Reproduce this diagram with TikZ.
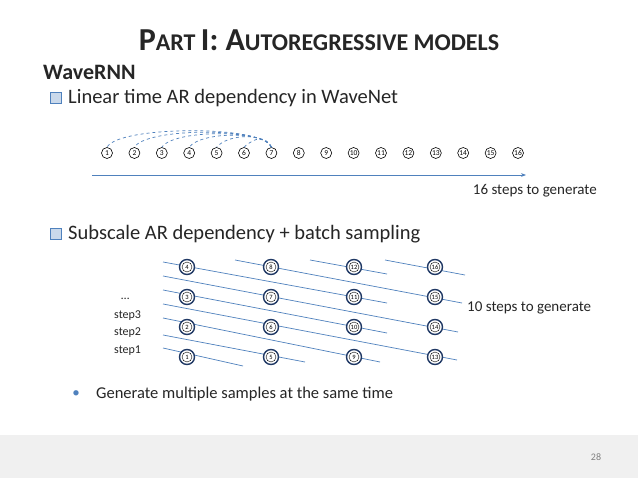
\documentclass[tikz,border=0pt]{standalone}
\usepackage{fontspec}
\setmainfont{Carlito}
\usetikzlibrary{arrows.meta,calc}
\definecolor{ablue}{HTML}{4F81BD}
\definecolor{navy}{HTML}{1F3864}
\definecolor{txt}{HTML}{262626}
\tikzset{
  small/.style={circle,draw=black,line width=0.6pt,minimum size=11pt,inner sep=0pt,font=\fontsize{7.5}{7}\selectfont},
  cell/.style={circle,draw=navy,line width=1.4pt,minimum size=15pt,inner sep=0pt,font=\fontsize{6.5}{6}\selectfont},
  inner/.style={circle,draw=black,line width=0.4pt,minimum size=10pt,inner sep=0pt},
  dep/.style={ablue,dashed,line width=0.7pt},
  sub/.style={ablue,line width=0.7pt},
  lbl/.style={font=\fontsize{12}{12}\selectfont,text=txt,anchor=west,inner sep=0pt},
  sq/.style={draw=ablue,fill=ablue!30,line width=0.8pt,minimum size=11pt,inner sep=0pt},
}
\begin{document}
\begin{tikzpicture}[x=1pt,y=-1pt]
\useasboundingbox (0,0) rectangle (638,478);
\fill[white] (0,0) rectangle (638,478);
\fill[gray!12] (0,435) rectangle (638,478);
\node[text=gray,font=\fontsize{10}{10}\selectfont] (pg) at (596,457) {28};
\node[font=\fontsize{32}{32}\selectfont\bfseries,text=txt] (title) at (319,40) {P\fontsize{24}{24}\selectfont ART \fontsize{32}{32}\selectfont I: A\fontsize{24}{24}\selectfont UTOREGRESSIVE MODELS};
\node[font=\fontsize{22}{22}\selectfont\bfseries,text=txt,anchor=west,inner sep=0pt] (wr) at (43,72) {WaveRNN};
\node[sq] (b1) at (56,98) {};
\node[font=\fontsize{20.5}{20}\selectfont,text=txt,anchor=west,inner sep=0pt] (t1) at (68,98) {Linear time AR dependency in WaveNet};
\node[sq] (b2) at (56,234) {};
\node[font=\fontsize{20.5}{20}\selectfont,text=txt,anchor=west,inner sep=0pt] (t2) at (68,234) {Subscale AR dependency + batch sampling};
% top row
\foreach \i in {1,...,16} {
  \node[small] (n\i) at ({107+(\i-1)*27.4},153) {\i};
}
\foreach \i/\h in {1/22,2/20,3/18,4/16,5/14,6/11} {
  \draw[dep] (n7.north) .. controls ($(n7.north)+(-6,-\h)$) and ($(n\i.north)+(12,-\h)$) .. (n\i.north);
}
\coordinate (a0) at (92,175);
\coordinate (a1) at (526,175);
\draw[ablue,line width=0.8pt,-{Stealth[length=5pt]}] (a0) -- (a1);
\node[font=\fontsize{15}{15}\selectfont,text=txt,anchor=east,inner sep=0pt] (s16) at (597,191) {16 steps to generate};
% subscale lines
\foreach \a/\b/\c/\d in {163/262/387/303, 163/276/458/332, 163/290/387/333, 163/304/457/360, 163/318/380/362, 163/335/305/362, 163/348/243/366, 235/260/462/303, 310/260/387/274, 385/260/465/275} {
  \coordinate (p) at (\a,\b); \coordinate (q) at (\c,\d);
  \draw[sub] (p) -- (q);
}
\foreach \c/\x in {0/187,1/271,2/354,3/435} {
  \foreach \r/\y in {4/267,3/297,2/327,1/357} {
    \pgfmathtruncatemacro{\k}{\c*4+\r}
    \node[cell,fill=white] (c\k) at (\x,\y) {};
    \node[inner] (i\k) at (c\k.center) {};
    \node[font=\fontsize{6.5}{6}\selectfont,inner sep=0pt] (k\k) at (c\k.center) {\k};
  }
}
\node[lbl] (d) at (121,299) {\ldots};
\node[lbl] (st3) at (114,316) {step3};
\node[lbl] (st2) at (114,333) {step2};
\node[lbl] (st1) at (114,351) {step1};
\node[font=\fontsize{15}{15}\selectfont,text=txt,anchor=west,inner sep=0pt] (s10) at (467,308) {10 steps to generate};
\node[text=ablue,font=\fontsize{15}{15}\selectfont] (dot) at (76,394) {•};
\node[font=\fontsize{16.5}{16}\selectfont,text=txt,anchor=west,inner sep=0pt] (t3) at (96,394) {Generate multiple samples at the same time};
\end{tikzpicture}
\end{document}
